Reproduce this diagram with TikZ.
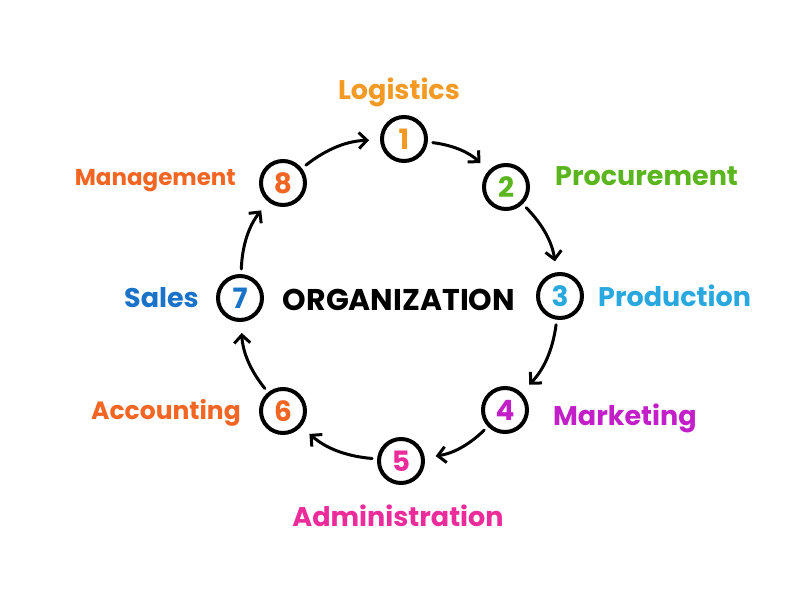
\documentclass[tikz,border=0pt]{standalone}
\usepackage{fontspec}
\setmainfont{Poppins}
\usetikzlibrary{arrows.meta}
\definecolor{corange}{HTML}{F39A25}
\definecolor{cgreen}{HTML}{5BB51E}
\definecolor{cblue}{HTML}{29A8E0}
\definecolor{cpurple}{HTML}{C21FC8}
\definecolor{cpink}{HTML}{EC2C9B}
\definecolor{cred}{HTML}{F26522}
\definecolor{cdblue}{HTML}{1A73C8}
\tikzset{
  num/.style={circle, draw=black, line width=4pt, minimum size=44pt, inner sep=0pt, font=\fontsize{28}{28}\selectfont\bfseries},
  lab/.style={font=\fontsize{27}{27}\selectfont\bfseries, inner sep=0pt},
  arr/.style={line width=3pt, -{Straight Barb[length=8pt,width=16pt,line width=3pt]}, shorten <=5pt, shorten >=11pt, line cap=round}
}
\begin{document}
\begin{tikzpicture}[x=1pt,y=-1pt]
\useasboundingbox[fill=white] (0,0) rectangle (800,605);
\node[num, text=corange] (n1) at (404,139) {1};
\node[num, text=cgreen] (n2) at (506,187) {2};
\node[num, text=cblue] (n3) at (560,296) {3};
\node[num, text=cpurple] (n4) at (505,410) {4};
\node[num, text=cpink] (n5) at (401,461) {5};
\node[num, text=cred] (n6) at (283,411) {6};
\node[num, text=cdblue] (n7) at (240,298) {7};
\node[num, text=cred] (n8) at (283,183) {8};

\node[lab, text=corange] (l1) at (399,92) {Logistics};
\node[lab, text=cgreen, anchor=west] (l2) at (555,176) {Procurement};
\node[lab, text=cblue, anchor=west] (l3) at (598,296) {Production};
\node[lab, text=cpurple, anchor=west] (l4) at (553,418) {Marketing};
\node[lab, text=cpink] (l5) at (398,516) {Administration};
\node[lab, text=cred, anchor=east, font=\fontsize{25}{25}\selectfont\bfseries] (l6) at (241,413) {Accounting};
\node[lab, text=cdblue, anchor=east] (l7) at (199,298) {Sales};
\node[lab, text=cred, anchor=east, font=\fontsize{23}{23}\selectfont\bfseries] (l8) at (236,181) {Management};
\node[font=\fontsize{30}{30}\selectfont\bfseries, inner sep=0pt] (org) at (399,300) {ORGANIZATION};

\draw[arr] (n8) to[bend left=18] (n1);
\draw[arr] (n1) to[bend left=18] (n2);
\draw[arr] (n2) to[bend left=18] (n3);
\draw[arr] (n3) to[bend left=18] (n4);
\draw[arr] (n4) to[bend left=18] (n5);
\draw[arr] (n5) to[bend left=18] (n6);
\draw[arr] (n6) to[bend left=18] (n7);
\draw[arr] (n7) to[bend left=18] (n8);
\end{tikzpicture}
\end{document}
